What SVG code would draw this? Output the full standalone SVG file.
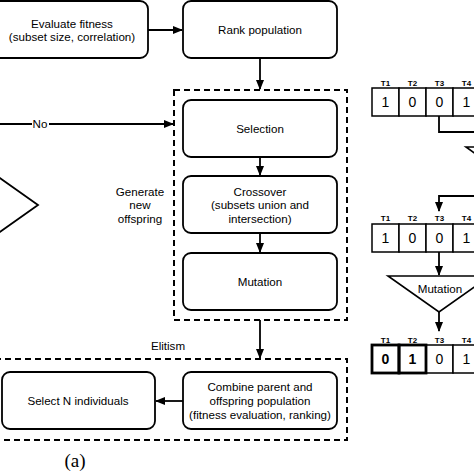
<svg xmlns="http://www.w3.org/2000/svg" width="474" height="474" viewBox="0 0 474 474">
<style>
.box{fill:#fff;stroke:#000;stroke-width:1.8}
.dash{fill:none;stroke:#000;stroke-width:2;stroke-dasharray:6,4}
.t{font-family:"Liberation Sans",Arial,sans-serif;font-size:11.6px;fill:#000;text-anchor:middle}
.line{fill:none;stroke:#000;stroke-width:1.8}
.cell{fill:#fff;stroke:#000;stroke-width:1.5}
.cellb{fill:none;stroke:#000;stroke-width:2.8}
.d{font-family:"Liberation Sans",Arial,sans-serif;font-size:14px;fill:#000;text-anchor:middle}
.h{font-family:"Liberation Sans",Arial,sans-serif;font-size:8px;font-weight:bold;fill:#000;text-anchor:middle}
.tri{fill:#fff;stroke:#000;stroke-width:1.6}
</style>
<defs>
<marker id="ah" markerWidth="10" markerHeight="8" refX="9" refY="4" orient="auto" markerUnits="userSpaceOnUse"><path d="M0,0 L10,4 L0,8 z" fill="#000"/></marker>
</defs>
<rect width="474" height="474" fill="#fff"/>

<g id="groups">
<rect id="offspring-group" class="dash" x="174" y="90" width="173" height="230"/>
<rect id="elitism-group" class="dash" x="-5" y="359" width="352" height="81"/>
</g>

<g id="connectors">
<path class="line" d="M148,30 L182,30" marker-end="url(#ah)"/>
<path class="line" d="M260,58 L260,89" marker-end="url(#ah)"/>
<path class="line" d="M0,124 L173,124" marker-end="url(#ah)"/>
<path class="line" d="M260,157 L260,175" marker-end="url(#ah)"/>
<path class="line" d="M260,233 L260,252" marker-end="url(#ah)"/>
<path class="line" d="M260,320 L260,358" marker-end="url(#ah)"/>
<path class="line" d="M183,401 L156,401" marker-end="url(#ah)"/>
<path class="line" d="M439,116 L439,132 L480,132"/>
<path class="line" d="M480,196 L439,196 L439,211" marker-end="url(#ah)"/>
<path class="line" d="M439,252 L439,275" marker-end="url(#ah)"/>
<path class="line" d="M439,312 L439,331" marker-end="url(#ah)"/>
<rect x="32" y="117" width="17" height="13" fill="#fff"/>
<text class="t" x="40" y="128">No</text>
</g>

<g id="evaluate">
<rect class="box" x="-10" y="1" width="158" height="57" rx="8"/>
<text class="t" x="72" y="28">Evaluate fitness</text>
<text class="t" x="72" y="41">(subset size, correlation)</text>
</g>
<g id="rank">
<rect class="box" x="183" y="1" width="154" height="57" rx="8"/>
<text class="t" x="260" y="34">Rank population</text>
</g>
<g id="decision">
<polyline class="line" points="-20,164 38,205 -20,246"/>
</g>
<g id="selection">
<rect class="box" x="183" y="100" width="154" height="57" rx="8"/>
<text class="t" x="260" y="133">Selection</text>
</g>
<g id="crossover">
<rect class="box" x="183" y="176" width="154" height="57" rx="8"/>
<text class="t" x="260" y="196">Crossover</text>
<text class="t" x="260" y="209">(subsets union and</text>
<text class="t" x="260" y="223">intersection)</text>
</g>
<g id="mutation">
<rect class="box" x="183" y="253" width="154" height="57" rx="8"/>
<text class="t" x="260" y="286">Mutation</text>
</g>
<g id="generate-label">
<text class="t" x="140" y="196">Generate</text>
<text class="t" x="140" y="209">new</text>
<text class="t" x="140" y="223">offspring</text>
</g>
<g id="elitism-label">
<text class="t" x="168" y="350">Elitism</text>
</g>
<g id="select-n">
<rect class="box" x="2" y="372" width="153" height="57" rx="8"/>
<text class="t" x="78" y="405">Select N individuals</text>
</g>
<g id="combine">
<rect class="box" x="183" y="372" width="154" height="57" rx="8"/>
<text class="t" x="260" y="391">Combine parent and</text>
<text class="t" x="260" y="405">offspring population</text>
<text class="t" x="260" y="419">(fitness evaluation, ranking)</text>
</g>
<text id="caption" x="75" y="467" font-family="'Liberation Serif','Times New Roman',serif" font-size="19" text-anchor="middle" fill="#000">(a)</text>

<g id="array-top">
<rect class="cell" x="372" y="88" width="27" height="28"/>
<rect class="cell" x="399" y="88" width="27" height="28"/>
<rect class="cell" x="426" y="88" width="27" height="28"/>
<rect class="cell" x="453" y="88" width="27" height="28"/>
<text class="h" x="385.5" y="86">T1</text><text class="h" x="412.5" y="86">T2</text><text class="h" x="439.5" y="86">T3</text><text class="h" x="466.5" y="86">T4</text>
<text class="d" x="385.5" y="107">1</text><text class="d" x="412.5" y="107">0</text><text class="d" x="439.5" y="107">0</text><text class="d" x="466.5" y="107">1</text>
</g>
<g id="crossover-op">
<polygon class="tri" points="466,147 560,147 513,181"/>
</g>
<g id="array-mid">
<rect class="cell" x="372" y="224" width="27" height="28"/>
<rect class="cell" x="399" y="224" width="27" height="28"/>
<rect class="cell" x="426" y="224" width="27" height="28"/>
<rect class="cell" x="453" y="224" width="27" height="28"/>
<text class="h" x="385.5" y="221">T1</text><text class="h" x="412.5" y="221">T2</text><text class="h" x="439.5" y="221">T3</text><text class="h" x="466.5" y="221">T4</text>
<text class="d" x="385.5" y="243">1</text><text class="d" x="412.5" y="243">0</text><text class="d" x="439.5" y="243">0</text><text class="d" x="466.5" y="243">1</text>
</g>
<g id="mutation-op">
<polygon class="tri" points="388,276 490,276 439,312"/>
<text class="t" x="440" y="293">Mutation</text>
</g>
<g id="array-bottom">
<rect class="cell" x="372" y="345" width="27" height="28"/>
<rect class="cell" x="399" y="345" width="27" height="28"/>
<rect class="cell" x="426" y="345" width="27" height="28"/>
<rect class="cell" x="453" y="345" width="27" height="28"/>
<rect class="cellb" x="372" y="345" width="27" height="28"/>
<rect class="cellb" x="399" y="345" width="27" height="28"/>
<text class="h" x="385.5" y="343">T1</text><text class="h" x="412.5" y="343">T2</text><text class="h" x="439.5" y="343">T3</text><text class="h" x="466.5" y="343">T4</text>
<text class="d" x="385.5" y="364" font-weight="bold">0</text><text class="d" x="412.5" y="364" font-weight="bold">1</text><text class="d" x="439.5" y="364">0</text><text class="d" x="466.5" y="364">1</text>
</g>
</svg>
